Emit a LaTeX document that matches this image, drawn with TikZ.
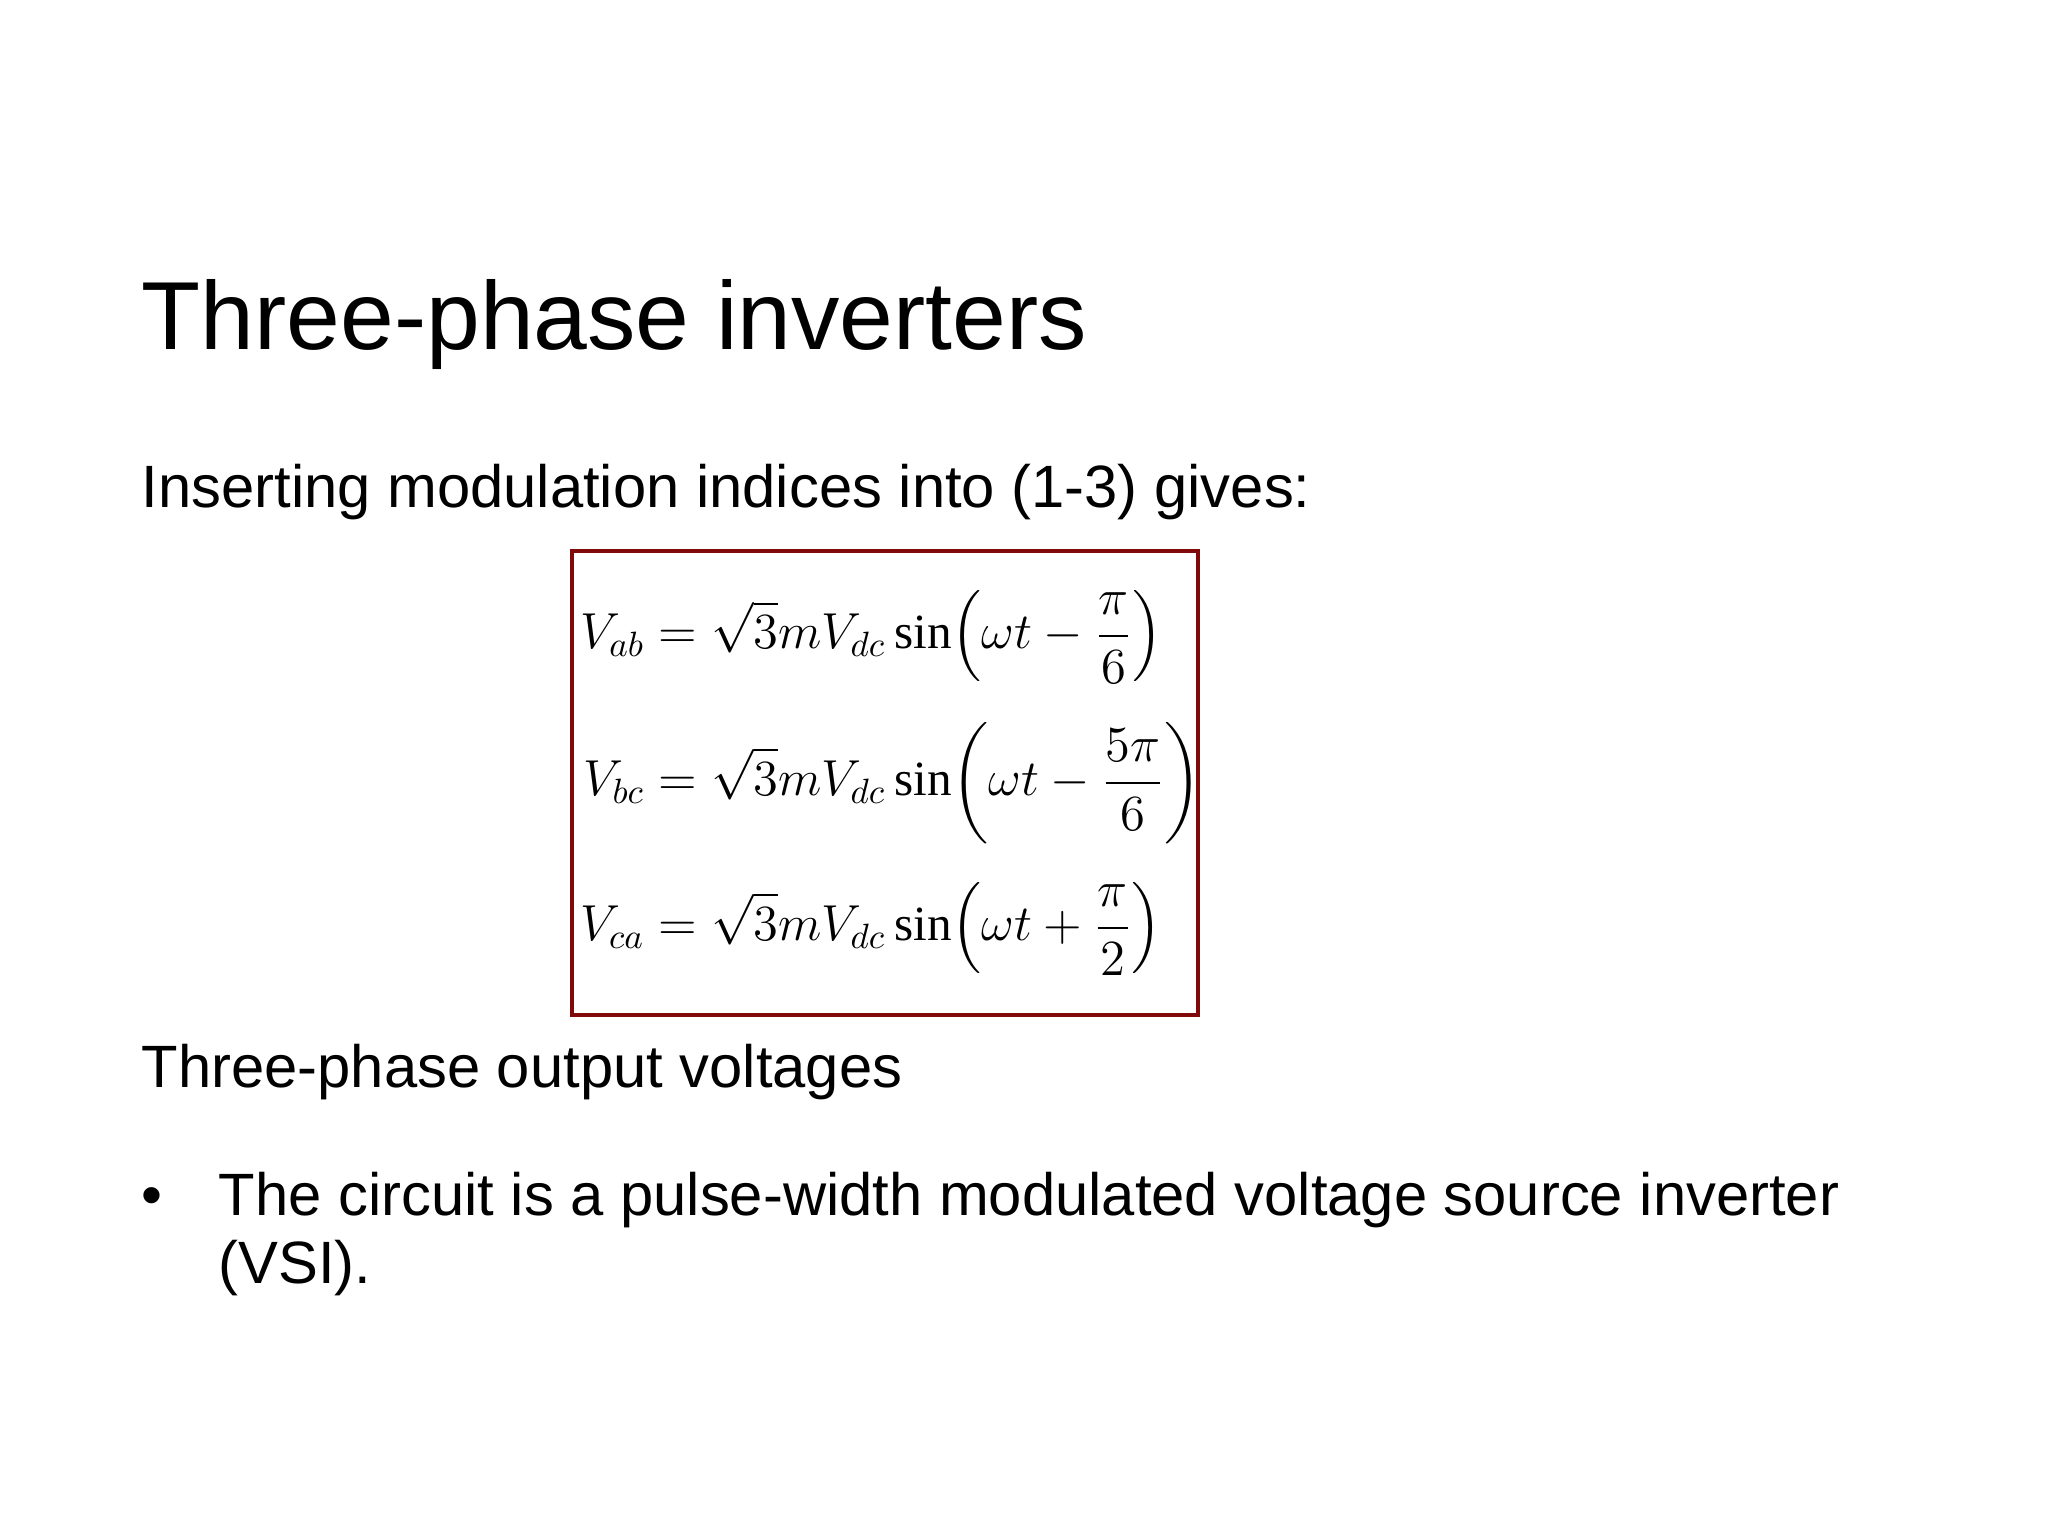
\documentclass[tikz,border=0pt]{standalone}
\usepackage{amsmath}
\usepackage[no-math]{fontspec}
\setmainfont{Liberation Sans}
\newfontfamily\eqserif{Liberation Serif}
\usetikzlibrary{positioning}
\definecolor{boxred}{RGB}{128,10,10}
\newcommand{\sinop}{\,\text{\eqserif sin}}
\begin{document}
\begin{tikzpicture}[txt/.style={anchor=base west,inner sep=0pt,font=\fontsize{17}{20}\selectfont},
  eqbox/.style={draw=boxred,line width=1.2pt,minimum width=6.26cm,minimum height=4.64cm,inner sep=0pt}]
  \useasboundingbox (0,0) rectangle (20.48,-15.36);
  \node[txt,font=\fontsize{27.5}{32}\selectfont] (title) at (1.41,-3.50) {Three-phase inverters};
  \node[txt] (intro) at (1.41,-5.07) {Inserting modulation indices into (1-3) gives:};

  \node[eqbox] (box) at (8.85,-7.83) {};
  \node[inner sep=0pt,xshift=0.06cm,font=\fontsize{14}{17}\selectfont] (eqs) at (box.center) {$\begin{aligned}
    V_{ab} &= \sqrt{3}mV_{dc}\sinop\!\left(\omega t-\dfrac{\pi}{6}\right)\\[7pt]
    V_{bc} &= \sqrt{3}mV_{dc}\sinop\!\left(\omega t-\dfrac{5\pi}{6}\right)\\[7pt]
    V_{ca} &= \sqrt{3}mV_{dc}\sinop\!\left(\omega t+\dfrac{\pi}{2}\right)
  \end{aligned}$};

  \node[txt] (out) at (1.41,-10.87) {Three-phase output voltages};
  \node[txt] (dot) at (1.41,-12.15) {•};
  \node[txt] (line1) at (2.18,-12.15) {The circuit is a pulse-width modulated voltage source inverter};
  \node[txt] (line2) at (2.18,-12.83) {(VSI).};
\end{tikzpicture}
\end{document}
